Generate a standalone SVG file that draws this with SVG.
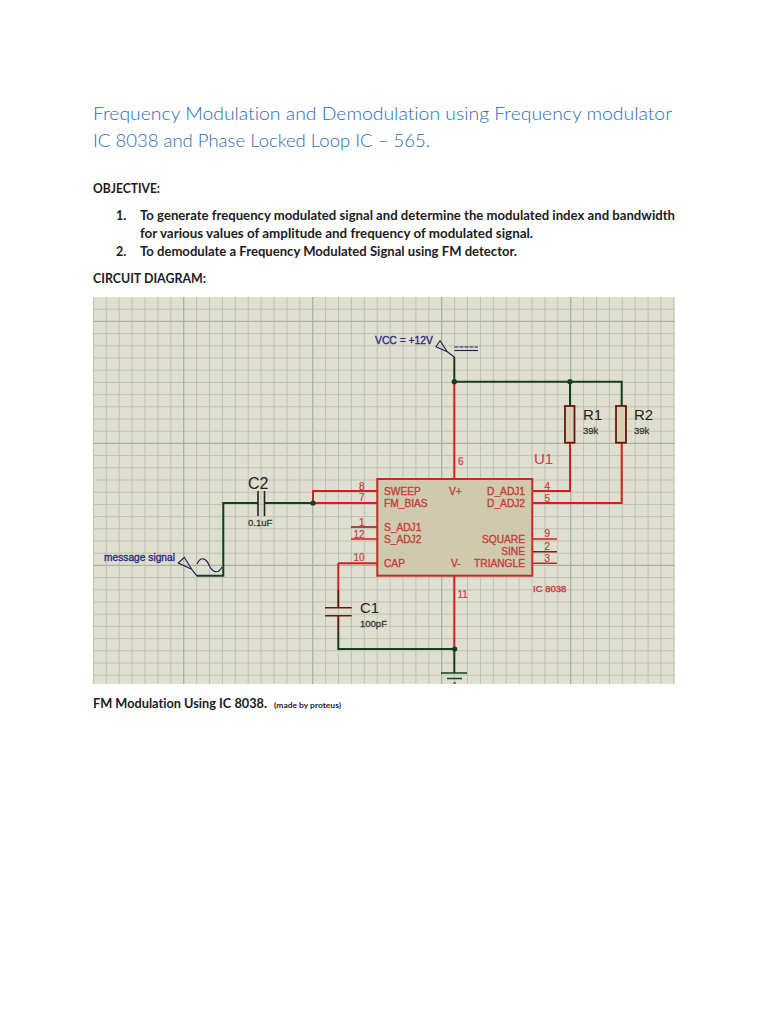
<svg xmlns="http://www.w3.org/2000/svg" width="768" height="1024" viewBox="0 0 768 1024">
<style>
text{font-variant-ligatures:none}
.doc{font-family:"Lato","Open Sans","Liberation Sans",sans-serif;font-size:12.5px;font-weight:700;fill:#1c1c1c}
.title{font-family:"Lato","Open Sans","Liberation Sans",sans-serif;font-size:18.5px;font-weight:300;fill:#2a6cb0}
.c{font-family:"Liberation Sans",Arial,sans-serif}
.pin{font-size:10px;fill:#c8413c;stroke:#c8413c;stroke-width:.2}
.ic{font-size:10.2px;fill:#c5403a;stroke:#c5403a;stroke-width:.35}
.name{font-size:15px;fill:#222}
.val{font-size:9.5px;fill:#3a3a3a;stroke:#3a3a3a;stroke-width:.3}
.term{font-size:10px;fill:#2c2c80;stroke:#2c2c80;stroke-width:.35}
.red{fill:none;stroke:#d3201f;stroke-width:2}
.green{fill:none;stroke:#12401a;stroke-width:2}
.dark{fill:none;stroke:#6e1512;stroke-width:2}
.navy{fill:none;stroke:#1c1c58;stroke-width:1.1}
.body{fill:#cfc9ae;stroke:#c72a25;stroke-width:2}
.res{fill:#d6cfb2;stroke:#6b1410;stroke-width:1.8}
</style>
<rect width="768" height="1024" fill="#fff"/>
<g id="heading">
<text class="title" x="93" y="120" textLength="579" lengthAdjust="spacingAndGlyphs">Frequency Modulation and Demodulation using Frequency modulator</text>
<text class="title" x="93" y="147" textLength="337" lengthAdjust="spacingAndGlyphs">IC 8038 and Phase Locked Loop IC – 565.</text>
<text class="doc" x="93" y="193" textLength="67" lengthAdjust="spacingAndGlyphs">OBJECTIVE:</text>
<text class="doc" x="116" y="220">1.</text>
<text class="doc" x="140" y="220" textLength="535" lengthAdjust="spacingAndGlyphs">To generate frequency modulated signal and determine the modulated index and bandwidth</text>
<text class="doc" x="140" y="238" textLength="393" lengthAdjust="spacingAndGlyphs">for various values of amplitude and frequency of modulated signal.</text>
<text class="doc" x="116" y="256">2.</text>
<text class="doc" x="140" y="256" textLength="377" lengthAdjust="spacingAndGlyphs">To demodulate a Frequency Modulated Signal using FM detector.</text>
<text class="doc" x="93" y="283" textLength="113" lengthAdjust="spacingAndGlyphs">CIRCUIT DIAGRAM:</text>
</g>
<g id="panel">
<rect x="93" y="297" width="581.5" height="387" fill="#dfdfd0"/>
<path fill="none" stroke="#bfc1b0" stroke-width="1" d="M93.4 297V684M106.3 297V684M119.2 297V684M132.1 297V684M145 297V684M157.9 297V684M170.8 297V684M196.6 297V684M209.5 297V684M222.4 297V684M235.3 297V684M248.2 297V684M261.1 297V684M274 297V684M286.9 297V684M299.8 297V684M325.6 297V684M338.5 297V684M351.4 297V684M364.3 297V684M377.2 297V684M390.1 297V684M403 297V684M415.9 297V684M428.8 297V684M454.6 297V684M467.5 297V684M480.4 297V684M493.3 297V684M506.2 297V684M519.1 297V684M532 297V684M544.9 297V684M557.8 297V684M583.6 297V684M596.5 297V684M609.4 297V684M622.3 297V684M635.2 297V684M648.1 297V684M661 297V684M673.9 297V684M93 309.2H674.5M93 333.6H674.5M93 345.8H674.5M93 358H674.5M93 370.2H674.5M93 382.4H674.5M93 394.6H674.5M93 406.8H674.5M93 419H674.5M93 431.2H674.5M93 455.6H674.5M93 467.8H674.5M93 480H674.5M93 492.2H674.5M93 504.4H674.5M93 516.6H674.5M93 528.8H674.5M93 541H674.5M93 553.2H674.5M93 577.6H674.5M93 589.8H674.5M93 602H674.5M93 614.2H674.5M93 626.4H674.5M93 638.6H674.5M93 650.8H674.5M93 663H674.5M93 675.2H674.5"/>
<path d="M183.7 297V684M312.7 297V684M441.7 297V684M570.7 297V684M93 321.4H674.5M93 443.4H674.5M93 565.4H674.5" fill="none" stroke="#aeb09f" stroke-width="1.3"/>
</g>
<g id="connectors">
<path class="green" d="M454.3 357V381.7H621.7V406M570 381.7V406"/>
<path class="red" d="M454.3 381.7V479M570 443V491H532M621.7 443V503H532M377 491H313V503H377M338.3 563.3H377M338.3 563.3V590M454.3 576V649"/>
<path class="dark" d="M338.3 590V608M338.3 616V632"/>
<path class="green" d="M313 503H268M255 503H223.3V575.7H196.7M338.3 632V649H454.3V673"/>
<path class="red" style="stroke-width:1.5" d="M351 539H377M532 539H557M532 563.3H557"/>
<path d="M351 527H377M532 551.700H557" fill="none" stroke="#8e1a16" stroke-width="1.600"/>
<circle cx="454.3" cy="381.7" r="2.6" fill="#12401a"/>
<circle cx="570" cy="381.7" r="2.6" fill="#12401a"/>
<circle cx="313" cy="503" r="2.6" fill="#12401a"/>
<circle cx="454.7" cy="649" r="2.6" fill="#12401a"/>
</g>
<g id="vcc">
<text class="c term" x="375" y="344" textLength="58" lengthAdjust="spacingAndGlyphs">VCC = +12V</text>
<path class="navy" d="M440 340.7L436 346.7L447.3 351.7ZM447.3 351.7L454.3 357"/>
<path class="navy" d="M454.5 347H478" stroke-dasharray="4 1"/>
<path class="navy" d="M454.5 350.5H478"/>
</g>
<g id="R1">
<rect class="res" x="565" y="406" width="9.5" height="36.7"/>
<text class="c name" x="583" y="419.500">R1</text>
<text class="c val" x="583" y="434">39k</text>
</g>
<g id="R2">
<rect class="res" x="616" y="406" width="10" height="36.7"/>
<text class="c name" x="634" y="419.500">R2</text>
<text class="c val" x="634" y="434">39k</text>
</g>
<g id="C2">
<path d="M258 491V516M264.500 491V516" fill="none" stroke="#222" stroke-width="1.600"/>
<path d="M255 503H258M264.500 503H268" fill="none" stroke="#12401a" stroke-width="2"/>
<text class="c name" x="248" y="489" style="font-size:16px">C2</text>
<text class="c val" x="248" y="526">0.1uF</text>
</g>
<g id="C1">
<path d="M325 607.700H351.700M325 615.700H351.700" fill="none" stroke="#6e1512" stroke-width="1.500"/>
<text class="c name" x="360" y="613">C1</text>
<text class="c val" x="360" y="627">100pF</text>
</g>
<g id="U1">
<rect class="body" x="377.300" y="479" width="155" height="96.700"/>
<text class="c" x="534" y="463.500" font-size="15" fill="#c8413c">U1</text>
<text class="c ic" x="384" y="495">SWEEP</text>
<text class="c ic" x="384" y="507">FM_BIAS</text>
<text class="c ic" x="384" y="531">S_ADJ1</text>
<text class="c ic" x="384" y="543">S_ADJ2</text>
<text class="c ic" x="384" y="567">CAP</text>
<text class="c ic" x="449" y="495">V+</text>
<text class="c ic" x="451" y="567">V-</text>
<text class="c ic" x="525" y="495" text-anchor="end">D_ADJ1</text>
<text class="c ic" x="525" y="507" text-anchor="end">D_ADJ2</text>
<text class="c ic" x="525" y="543" text-anchor="end">SQUARE</text>
<text class="c ic" x="525" y="555" text-anchor="end">SINE</text>
<text class="c ic" x="525" y="567" text-anchor="end">TRIANGLE</text>
<text class="c pin" x="359" y="489.500">8</text>
<text class="c pin" x="359" y="501">7</text>
<text class="c pin" x="359" y="525.500">1</text>
<text class="c pin" x="353.500" y="537.500">12</text>
<text class="c pin" x="353.500" y="561">10</text>
<text class="c pin" x="458" y="465">6</text>
<text class="c pin" x="457.500" y="597.500">11</text>
<text class="c pin" x="544.500" y="489.500">4</text>
<text class="c pin" x="544.500" y="501.500">5</text>
<text class="c pin" x="544.500" y="537">9</text>
<text class="c pin" x="544.500" y="549.500">2</text>
<text class="c pin" x="544.500" y="562">3</text>
<text class="c ic" x="533" y="592" style="font-size:9.500px">IC 8038</text>
</g>
<g id="source">
<text class="c term" x="104" y="561" textLength="71" lengthAdjust="spacingAndGlyphs">message signal</text>
<path class="navy" d="M178.300 563L184.300 557.300L191.700 569.300ZM191.700 569.300L196.700 575.700"/>
<path class="navy" d="M197 564C201 556 206 558 209 565C212 572 218 575 222 567"/>
</g>
<g id="ground">
<path d="M441 673H467M447 678.500H462" fill="none" stroke="#12401a" stroke-width="1.500"/>
<path d="M453 683H456" fill="none" stroke="#12401a" stroke-width="1"/>
</g>
<g id="caption">
<text class="doc" x="93" y="708" textLength="174" lengthAdjust="spacingAndGlyphs">FM Modulation Using IC 8038.</text>
<text class="doc" x="274" y="708" style="font-size:7px" textLength="67" lengthAdjust="spacingAndGlyphs">(made by proteus)</text>
</g>
</svg>
